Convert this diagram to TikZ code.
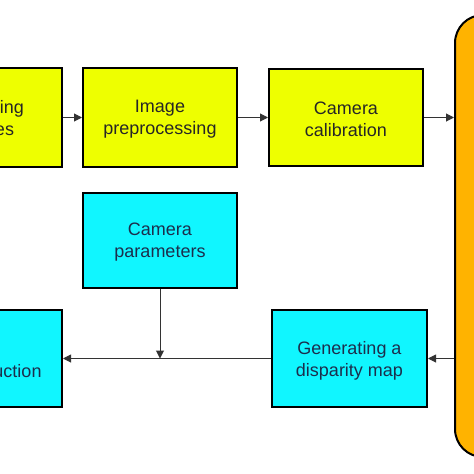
\documentclass[tikz,border=0pt]{standalone}
\usepackage{fontspec}
\setmainfont{Liberation Sans}
\usetikzlibrary{arrows.meta}
\definecolor{boxyellow}{HTML}{EEFF00}
\definecolor{boxcyan}{HTML}{10F6FF}
\definecolor{boxorange}{HTML}{FFB300}
\definecolor{cyantext}{HTML}{1C2E4C}
\definecolor{linegray}{HTML}{333333}
\tikzset{
  stagebox/.style={draw=black, line width=2pt, minimum width=154pt, minimum height=97pt,
    inner sep=0pt},
  boxtext/.style={align=center, inner sep=0pt, yshift=-2pt, font=\fontsize{18}{22}\selectfont},
  yel/.style={stagebox, fill=boxyellow, label={[boxtext, text=black!85]center:#1}},
  cya/.style={stagebox, fill=boxcyan, label={[boxtext, text=cyantext]center:#1}},
  conn/.style={draw=linegray, line width=1pt, -{Triangle[length=8pt,width=8pt]}},
}
\begin{document}
\begin{tikzpicture}[x=1pt,y=-1pt]
\clip (0,0) rectangle (474,474);
\fill[white] (0,0) rectangle (474,474);
\node[yel={Capturing\\images}, minimum height=99pt] (cap) at (-15,117.5) {};
\node[yel={Image\\preprocessing}, minimum height=99pt] (pre) at (160,117.5) {};
\node[yel={Camera\\calibration}] (cal) at (346,117.5) {};
\node[draw=black, line width=2pt, fill=boxorange, rounded corners=28pt,
  minimum width=90pt, minimum height=442pt, inner sep=0pt] (rec) at (500,236) {};
\node[cya={Camera\\parameters}, minimum height=95pt] (par) at (160,240.5) {};
\node[cya={3D\\reconstruction}] (recon) at (-15,358.5) {};
\node[cya={Generating a\\disparity map}, minimum width=155pt] (disp) at (349.5,358.5) {};
\coordinate (j) at (par.south |- disp.west);
\draw[conn] (cap.east) -- (pre.west);
\draw[conn] (pre.east) -- (cal.west);
\draw[conn] (cal.east) -- (cal.east -| rec.west);
\draw[conn] (disp.east -| rec.west) -- (disp.east);
\draw[conn] (disp.west) -- (recon.east);
\draw[conn] (par.south) -- (j);
\end{tikzpicture}
\end{document}
